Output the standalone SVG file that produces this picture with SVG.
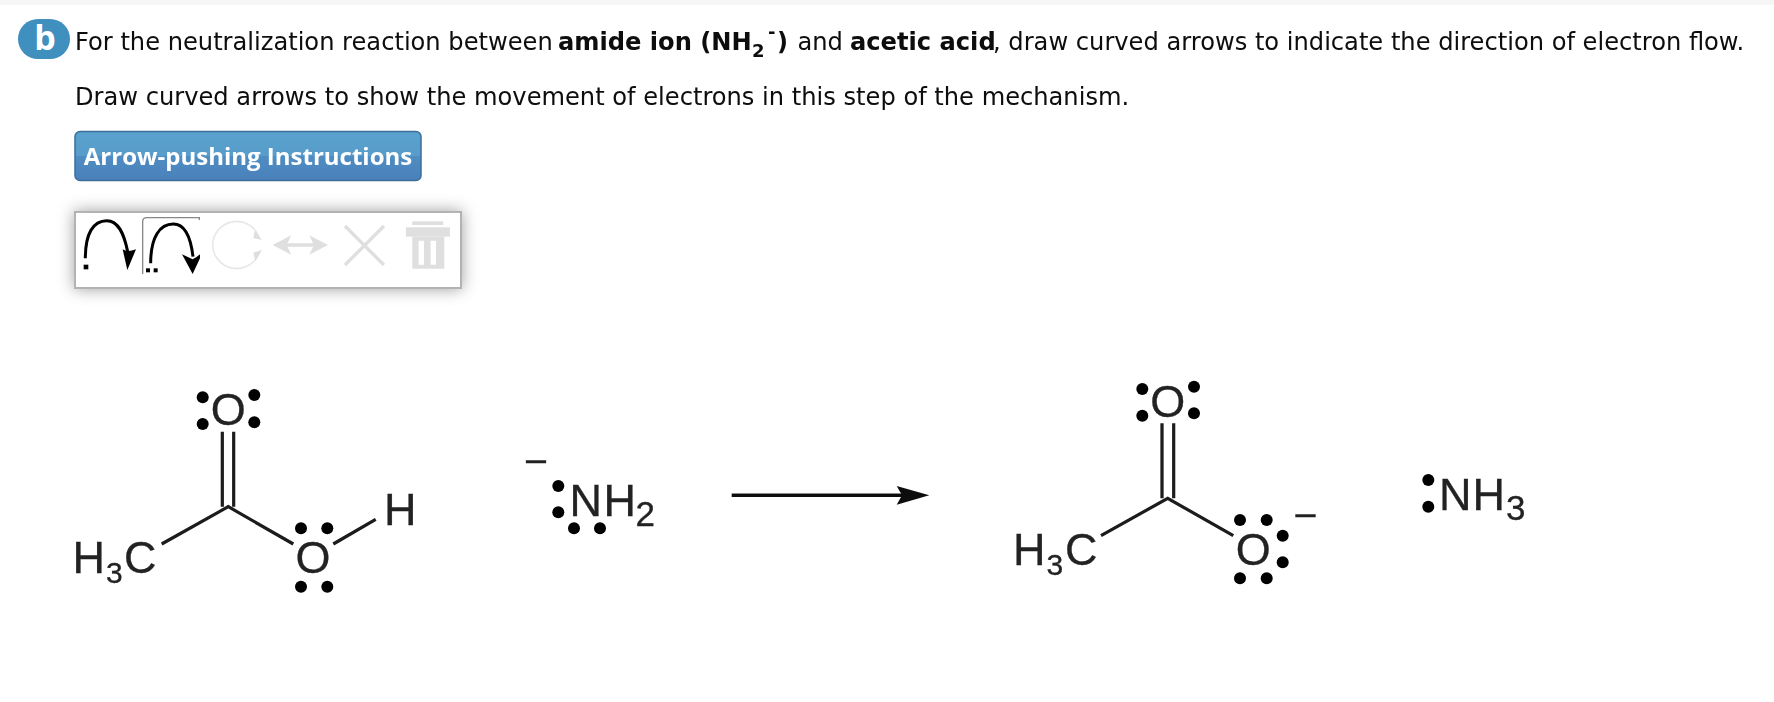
<svg xmlns="http://www.w3.org/2000/svg" width="1774" height="702" viewBox="0 0 1774 702">
<defs>
<filter id="soft" x="-5%" y="-20%" width="110%" height="140%"><feGaussianBlur stdDeviation="0.55"/></filter>
<filter id="shadow" x="-15%" y="-50%" width="130%" height="200%"><feDropShadow dx="0" dy="0" stdDeviation="8" flood-color="#000" flood-opacity="0.38"/></filter>
<linearGradient id="btn" x1="0" y1="0" x2="0" y2="1"><stop offset="0" stop-color="#5aa2ce"/><stop offset="0.5" stop-color="#579cca"/><stop offset="0.5" stop-color="#4f8dc2"/><stop offset="1" stop-color="#4a80bb"/></linearGradient>
</defs>
<style>
.q{font-family:"DejaVu Sans",sans-serif;font-size:24.15px;fill:#0a0a0a}
.b{font-weight:700}
.s{font-size:18px}
.c{font-family:"Liberation Sans",Arial,sans-serif;font-size:45px;fill:#222;stroke:#222;stroke-width:0.3}
.c3{font-family:"Liberation Sans",Arial,sans-serif;font-size:30px;fill:#222;stroke:#222;stroke-width:0.3}
.c4{font-family:"Liberation Sans",Arial,sans-serif;font-size:35px;fill:#222;stroke:#222;stroke-width:0.3}
.m{font-size:36px}
.bond{stroke:#1a1a1a;stroke-width:3.2;fill:none}
.dot{fill:#000}
.ic{fill:none;stroke:#000;stroke-width:9}
.gr{fill:#dfdfdf}
.grl{fill:none;stroke:#dfdfdf;stroke-width:10}
</style>
<rect width="1774" height="702" fill="#fff"/>
<rect width="1774" height="5" fill="#f6f6f6"/>
<g id="badge">
<rect x="18" y="19" width="52" height="40" rx="20" ry="20" fill="#3f8fbf"/>
<text x="45" y="50" text-anchor="middle" font-family="'Open Sans',sans-serif" font-weight="700" font-size="34" fill="#fff">b</text>
</g>
<g id="question" filter="url(#soft)">
<text class="q" y="50"><tspan x="75">For the neutralization reaction between</tspan><tspan x="558" class="b">amide ion (NH</tspan><tspan x="752" y="57" class="b s">2</tspan><tspan x="768" y="38" class="b s">-</tspan><tspan x="777" y="50" class="b">)</tspan><tspan x="797.500">and</tspan><tspan x="850" class="b">acetic acid</tspan><tspan x="993">, draw curved arrows to indicate the direction of electron flow.</tspan></text>
<text class="q" x="75" y="105">Draw curved arrows to show the movement of electrons in this step of the mechanism.</text>
</g>
<g id="button">
<rect x="75" y="131.500" width="346" height="49" rx="5" fill="url(#btn)" stroke="#3c6e9c" stroke-width="1.500"/>
<text x="248" y="165" text-anchor="middle" font-family="'Open Sans',sans-serif" font-weight="700" font-size="24" fill="#fff" filter="url(#soft)">Arrow-pushing Instructions</text>
</g>
<g id="toolbar">
<rect x="75" y="212" width="386" height="76" fill="#fff" stroke="#b3b3b3" stroke-width="2" filter="url(#shadow)"/>
<g transform="translate(60 200) scale(0.3333)" filter="url(#soft)">
<g id="tool-arrow-single">
<path class="ic" d="M76 175C76 100 100 62 140 62C175 62 192 100 203 155"/>
<path d="M188 148Q202 158 228 148L202 210Z" fill="#000"/>
<rect x="71" y="194" width="14" height="14" fill="#000"/>
</g>
<g id="tool-arrow-double">
<path d="M248 222V65Q248 53 260 53H418V60" fill="none" stroke="#888" stroke-width="4"/>
<path class="ic" d="M272 190C272 110 300 72 340 72C375 72 392 110 399 170"/>
<path d="M366 163Q385 172 398 178Q410 172 420 163V175L398 222Z" fill="#000"/>
<rect x="258" y="205" width="12" height="12" fill="#000"/><rect x="281" y="205" width="12" height="12" fill="#000"/>
</g>
<g id="tool-cycle">
<path d="M597 110A72 72 0 0 0 458 135A72 72 0 0 0 597 160" fill="none" stroke="#e8e8e8" stroke-width="5"/>
<path d="M584 92L606 120L580 114Z" fill="#dedede"/><path d="M580 158L606 150L586 184Z" fill="#dedede"/>
</g>
<g id="tool-resonance">
<path class="grl" d="M670 135H770"/>
<path class="gr" d="M638 135L694 106L680 135L694 164Z"/><path class="gr" d="M804 135L748 106L762 135L748 164Z"/>
</g>
<g id="tool-delete">
<path class="grl" d="M855 78L972 195M972 78L855 195"/>
</g>
<g id="tool-trash">
<rect class="gr" x="1057" y="64" width="93" height="11"/>
<rect class="gr" x="1038" y="82" width="132" height="28"/>
<path class="gr" d="M1057 110H1153V206H1057ZM1076 122V194H1092V122ZM1112 122V194H1128V122Z" fill-rule="evenodd"/>
</g>
</g>
</g>
<g id="connectors" filter="url(#soft)">
<path id="reaction-arrow" d="M731.700 495.300H905" stroke="#111" stroke-width="3.400" fill="none"/>
<path d="M896.700 486L929.300 495.300L896.700 504.700L902 495.300Z" fill="#111"/>
</g>
<g id="acetic-acid" filter="url(#soft)">
<path class="bond" d="M222.300 431.700V506.700M233.700 431.700V506.700M161.700 544L228.300 506.700L293.300 544M333.300 544L375.700 519.300"/>
<text class="c" x="72.500" y="573">H</text><text class="c3" x="106" y="583">3</text><text class="c" x="124" y="573">C</text>
<text class="c" x="228.300" y="425" text-anchor="middle">O</text>
<text class="c" x="313" y="573" text-anchor="middle">O</text>
<text class="c" x="384" y="524.500">H</text>
<g class="dot"><circle cx="202.700" cy="397.300" r="6"/><circle cx="254.300" cy="395" r="6"/><circle cx="202.700" cy="424" r="6"/><circle cx="254.300" cy="422.300" r="6"/><circle cx="301" cy="528.300" r="6"/><circle cx="327.300" cy="528.300" r="6"/><circle cx="301" cy="586.700" r="6"/><circle cx="327.300" cy="586.700" r="6"/></g>
</g>
<g id="amide-ion" filter="url(#soft)">
<text class="c m" x="526" y="471">–</text>
<text class="c" x="569.500" y="516">N</text><text class="c" x="603.500" y="516">H</text><text class="c4" x="635.500" y="526">2</text>
<g class="dot"><circle cx="558.300" cy="486" r="6"/><circle cx="558.300" cy="512.300" r="6"/><circle cx="574" cy="528.300" r="6"/><circle cx="600" cy="528.300" r="6"/></g>
</g>
<g id="acetate" filter="url(#soft)">
<path class="bond" d="M1162 423.300V498.300M1173.700 423.300V498.300M1101 535.700L1167.700 498.300L1233.300 535.700"/>
<text class="c" x="1013" y="565">H</text><text class="c3" x="1046.500" y="575">3</text><text class="c" x="1065" y="565">C</text>
<text class="c" x="1167.700" y="416.700" text-anchor="middle">O</text>
<text class="c" x="1253.300" y="565" text-anchor="middle">O</text>
<text class="c m" x="1295.500" y="525">–</text>
<g class="dot"><circle cx="1142.300" cy="389" r="6"/><circle cx="1194" cy="386.700" r="6"/><circle cx="1142.300" cy="415.700" r="6"/><circle cx="1194" cy="413.300" r="6"/><circle cx="1240" cy="520" r="6"/><circle cx="1266.700" cy="520" r="6"/><circle cx="1282.700" cy="535.700" r="6"/><circle cx="1282.700" cy="562.300" r="6"/><circle cx="1240" cy="578.300" r="6"/><circle cx="1266.700" cy="578.300" r="6"/></g>
</g>
<g id="ammonia" filter="url(#soft)">
<text class="c" x="1439" y="510">N</text><text class="c" x="1472.500" y="510">H</text><text class="c4" x="1506" y="520">3</text>
<g class="dot"><circle cx="1428.300" cy="480" r="6"/><circle cx="1428.300" cy="506.700" r="6"/></g>
</g>
</svg>
